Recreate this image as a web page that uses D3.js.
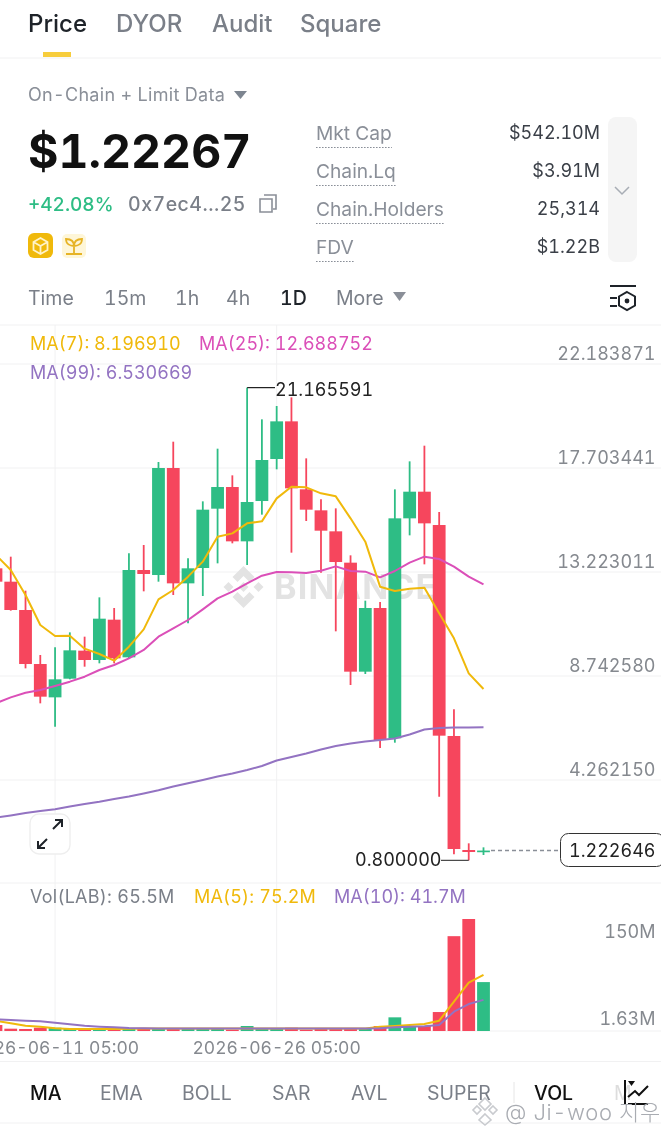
<!DOCTYPE html>
<html><head><meta charset="utf-8">
<script src="https://cdn.jsdelivr.net/npm/d3@7/dist/d3.min.js"></script>
<style>html,body{margin:0;padding:0;background:#fff;overflow:hidden}svg{display:block;filter:blur(.35px)}text{font-family:Inter,"Noto Sans CJK KR",sans-serif;font-variant-numeric:tabular-nums;font-feature-settings:"tnum" 1}</style>
</head><body><svg id="c" width="661" height="1136"></svg>
<script>
const categories=["06-07","06-08","06-09","06-10","06-11","06-12","06-13","06-14","06-15","06-16","06-17","06-18","06-19","06-20","06-21","06-22","06-23","06-24","06-25","06-26","06-27","06-28","06-29","06-30","07-01","07-02","07-03","07-04","07-05","07-06","07-07","07-08","07-09","07-10"];
const opens=[13.381,12.806,11.586,9.259,7.823,8.627,9.834,9.432,11.169,9.547,13.309,13.093,17.703,12.734,13.395,15.951,16.884,14.544,16.281,18.091,19.713,16.784,15.879,14.975,13.625,8.929,11.672,6.057,15.535,16.683,15.247,6.158,1.246,1.15];
const highs=[13.955,13.883,12.418,9.647,9.977,10.623,10.437,12.131,11.672,14.027,14.386,17.961,18.837,13.811,16.267,18.536,17.387,21.166,19.8,20.374,20.747,18.119,16.353,15.965,13.941,11.988,11.93,16.784,17.99,18.665,15.807,7.306,1.534,1.361];
const lows=[12.7,11.557,9.072,7.565,6.56,8.6,9.144,9.288,9.288,9.503,12.39,12.806,12.232,11.011,12.189,13.596,14.458,13.524,15.693,17.646,14.056,15.42,13.194,10.667,8.355,8.828,5.641,5.87,14.802,13.553,3.544,1.06,0.8,1.03];
const closes=[12.806,11.586,9.259,7.852,8.599,9.848,9.432,11.212,9.503,13.309,13.137,17.703,12.734,13.381,15.908,16.884,14.544,16.238,18.048,19.713,16.827,15.908,15.003,13.653,8.929,11.672,5.985,15.535,16.683,15.319,6.172,1.289,1.16,1.2226];
const ma7=[13.955,13.309,12.232,10.939,10.466,10.48,9.92,9.69,9.403,10.006,10.753,12.045,12.447,13.022,13.668,14.745,14.888,15.319,15.405,16.396,16.899,16.87,16.612,16.482,15.535,14.529,12.591,12.404,12.505,12.548,11.442,10.365,8.858,8.182];
const ma25=[7.565,7.823,8.024,8.139,8.312,8.498,8.713,9.001,9.216,9.503,9.863,10.437,10.796,11.155,11.614,12.088,12.375,12.734,13.065,13.223,13.208,13.18,13.28,13.467,13.266,13.237,12.993,13.266,13.625,13.883,13.783,13.452,13.022,12.689];
const ma99=[2.638,2.733,2.84,2.927,3.0,3.12,3.228,3.327,3.444,3.551,3.68,3.818,3.982,4.12,4.262,4.413,4.542,4.693,4.865,5.102,5.253,5.404,5.576,5.727,5.834,5.921,5.985,6.05,6.222,6.438,6.502,6.52,6.528,6.531];
const volumes=[8,3.1,2.7,4.4,4.4,3.5,1.7,1.7,1.7,2.7,2.7,2.7,3.4,3,3.4,3,1.7,6.7,3.1,3.1,4.4,1.7,2.9,2.9,3.1,3.1,6.7,18.3,6.7,6.7,25.4,127,150,65.5];
const volMa5=[13.8,10.3,7.1,5.8,3.6,2.7,2.6,2.6,2.6,3,3.2,3.2,3.2,3.2,3.3,3.3,3.3,3.4,3.4,3.4,3.3,3.3,3.3,3.3,3.4,3.4,5.8,6.7,8,9.4,13.8,39.2,64.7,75.2];
const volMa10=[15.7,14.7,13.8,13,11.1,9,7,5.8,5,4,3.6,3.5,3.5,3.5,3.5,3.4,3.4,3.5,3.5,3.5,3.5,3.5,3.5,3.5,3.5,3.5,3.6,5,5.8,6.3,8,25.8,36.1,41.7];
const priceTicks=[22.183871,17.703441,13.223011,8.74258,4.26215];
const timeTicks=[["06-11","2026-06-11 05:00"],["06-26","2026-06-26 05:00"]];
const tabs=["Price","DYOR","Audit","Square"];
const stats=[["Mkt Cap","$542.10M"],["Chain.Lq","$3.91M"],["Chain.Holders","25,314"],["FDV","$1.22B"]];
const intervals=["Time","15m","1h","4h","1D","More"];
const indicators=["MA","EMA","BOLL","SAR","AVL","SUPER","VOL"];

const GREEN="#2EBD85",RED="#F6465D",YEL="#F0B90B",PINK="#DB4FB8",PUR="#9373C2",GRID="#f1f1f2",GR="#7d8590",INK="#1e2329";
const svg=d3.select("#c");
const T=(x,y,s,o={})=>svg.append("text").attr("x",x).attr("y",y).attr("dy",".36em").attr("font-size",o.size||19).attr("font-weight",o.w||400)
  .attr("fill",o.c||GR).attr("text-anchor",o.a||"start").attr("letter-spacing",o.ls||0).attr("opacity",o.op==null?1:o.op).text(s);
const HL=(x1,x2,y,c=GRID,w=1)=>svg.append("line").attr("x1",x1).attr("x2",x2).attr("y1",y).attr("y2",y).attr("stroke",c).attr("stroke-width",w);

const x=d3.scalePoint().domain(categories).range([-4.03,483.5]);
const y=d3.scaleLinear().domain([4.26215,17.703441]).range([780,468]);
const v=d3.scaleLinear().domain([0,150]).range([1031,919]);
const W=12.8;

// header
const tabX=[28,116,212,300];
tabs.forEach((t,i)=>T(tabX[i],23,t,{size:24,w:500,c:i?"#7a7f88":INK}));
svg.append("rect").attr("x",43).attr("y",52).attr("width",28).attr("height",5).attr("fill","#F7CD3C");
HL(0,661,58);
T(28,95,"On-Chain + Limit Data",{size:18,c:"#8a8f98",ls:.3});
svg.append("path").attr("d","M234 91h13l-6.5 8z").attr("fill","#7d8590");
T(28,151,"$1.22267",{size:46.5,w:700,c:"#111"});
T(28,204,"+42.08%",{size:19,w:500,c:GREEN});
T(128,204,"0x7ec4...25",{size:19.5,w:500,c:"#7a7f88",ls:.5});
svg.append("path").attr("d","M264 195h12v14h-3M260 199h12v13h-12z").attr("fill","none").attr("stroke","#8a8f98").attr("stroke-width",1.6);
svg.append("rect").attr("x",28).attr("y",233).attr("width",25).attr("height",25).attr("rx",6).attr("fill",YEL);
svg.append("path").attr("d","M40.5 238l7 4v8l-7 4-7-4v-8zM33.5 242l7 4 7-4M40.5 246v8").attr("fill","none").attr("stroke","#fff3c8").attr("stroke-width",1.8);
svg.append("rect").attr("x",62).attr("y",234).attr("width",24).attr("height",24).attr("rx",5).attr("fill","#FEF6D8");
svg.append("path").attr("d","M74 254v-12M74 246c-4 0-8-2-8-7 5 0 8 2 8 7zM74 246c4 0 8-2 8-7-5 0-8 2-8 7zM66 254h16").attr("fill","none").attr("stroke","#E6B325").attr("stroke-width",1.8);
const rowY=[133,171,209,247];
stats.forEach((s,i)=>{
  const t=T(316,rowY[i],s[0],{size:19.2,c:"#8a8f98"});
  const w=t.node().getComputedTextLength();
  svg.append("line").attr("x1",316).attr("x2",316+w).attr("y1",rowY[i]+14.5).attr("y2",rowY[i]+14.5).attr("stroke","#8a8f98").attr("stroke-dasharray","1.6 1.4").attr("stroke-width",1);
  T(600,rowY[i],s[1],{size:18,a:"end",c:"#3a3f47"});
});
svg.append("rect").attr("x",608).attr("y",117).attr("width",29).attr("height",145).attr("rx",8).attr("fill","#f5f5f5");
svg.append("path").attr("d","M615 187l7 7 7-7").attr("fill","none").attr("stroke","#a8adb5").attr("stroke-width",1.5);
const ivX=[28,104,175,226,280,336];
intervals.forEach((t,i)=>T(ivX[i],298,t,{size:19.5,w:t==="1D"?500:400,c:t==="1D"?INK:"#7a7f88"}));
svg.append("path").attr("d","M393 292h13l-6.5 9z").attr("fill","#8a8f98");
svg.append("path").attr("d","M610 286h26M610 298h7M610 306h7M627 292l8 4.5v9l-8 4.5-8-4.5v-9z").attr("fill","none").attr("stroke",INK).attr("stroke-width",2);
svg.append("circle").attr("cx",627).attr("cy",301).attr("r",2.4).attr("fill",INK);
HL(0,661,325);

// grid
priceTicks.forEach(p=>HL(0,661,y(p)));
timeTicks.forEach(t=>svg.append("line").attr("x1",x(t[0])).attr("x2",x(t[0])).attr("y1",325).attr("y2",1031).attr("stroke",GRID));
HL(0,661,883);HL(0,661,1031);HL(0,661,1061.5);HL(0,661,1123);

// watermark
svg.append("g").attr("transform","translate(243.5,587)").attr("fill","#e3e3e3").selectAll("path")
  .data(["M0-21l11 11-5 5-6-6-6 6-5-5z","M0 21l11-11-5-5-6 6-6-6-5 5z","M-15-5l5 5-5 5-5-5z","M15-5l5 5-5 5-5-5z","M0-5l5 5-5 5-5-5z"]).join("path").attr("d",d=>d);
T(274,587,"BINANCE",{size:34,w:700,c:"#e3e3e3",ls:1.2});

// candles
const idx=d3.range(categories.length);
const col=i=>closes[i]>=opens[i]?GREEN:RED;
svg.append("g").selectAll("line").data(idx).join("line").attr("x1",i=>x(categories[i])).attr("x2",i=>x(categories[i]))
  .attr("y1",i=>y(highs[i])).attr("y2",i=>y(lows[i])).attr("stroke",col).attr("stroke-width",1.8);
svg.append("g").selectAll("rect").data(idx).join("rect").attr("x",i=>x(categories[i])-W/2).attr("width",W)
  .attr("y",i=>Math.min(y(opens[i]),y(closes[i]))).attr("height",i=>Math.max(1.6,Math.abs(y(opens[i])-y(closes[i])))).attr("fill",col);
// volume
svg.append("g").selectAll("rect").data(idx).join("rect").attr("x",i=>x(categories[i])-W/2).attr("width",W)
  .attr("y",i=>v(volumes[i])).attr("height",i=>v(0)-v(volumes[i])).attr("fill",col);

const line=(arr,sc,c,w=2)=>svg.append("path").datum(arr).attr("fill","none").attr("stroke",c).attr("stroke-width",w).attr("stroke-linejoin","round")
  .attr("d",d3.line().x((d,i)=>x(categories[i])).y(d=>sc(d)));
line(ma99,y,PUR);line(ma25,y,PINK);line(ma7,y,YEL);
line(volMa5,v,YEL);line(volMa10,v,PUR);

// legends
T(30,344,"MA(7): 8.196910",{size:18,c:YEL});
T(199,344,"MA(25): 12.688752",{size:18,c:PINK});
T(30,373,"MA(99): 6.530669",{size:18,c:PUR});
T(30,897,"Vol(LAB): 65.5M",{size:18,c:"#7a7f88",ls:.25});
T(194,897,"MA(5): 75.2M",{size:18,c:YEL,ls:.15});
T(334,897,"MA(10): 41.7M",{size:18,c:PUR});

// price axis
priceTicks.forEach(p=>T(655.5,y(p)-10,d3.format(".6f")(p),{size:18,a:"end",c:"#85898f"}));
T(655.5,932,"150M",{size:18,a:"end",c:"#85898f"});
T(655.5,1019,"1.63M",{size:18,a:"end",c:"#85898f"});
timeTicks.forEach(t=>T(x(t[0]),1048,t[1],{size:17.5,a:"middle",c:"#85898f"}));

// high / low / last markers
const hi=d3.max(highs),lo=d3.min(lows),hx=x(categories[highs.indexOf(hi)]),lx=x(categories[lows.indexOf(lo)]);
HL(hx,275,y(hi),"#222",1.2);
T(275,390,"21.165591",{size:18,c:"#222"});
HL(441,lx,y(lo),"#444",1.2);
T(355,860,"0.800000",{size:18,a:"start",c:"#222"});
const last=closes[closes.length-1];
svg.append("line").attr("x1",491).attr("x2",560).attr("y1",y(last)).attr("y2",y(last)).attr("stroke","#8a8f98").attr("stroke-width",1.4).attr("stroke-dasharray","4 3");
svg.append("rect").attr("x",560.5).attr("y",833.5).attr("width",104).attr("height",33).attr("rx",8).attr("fill","#fff").attr("stroke","#333").attr("stroke-width",1);
T(655.5,850.5,"1.222646",{size:18,a:"end",c:"#222"});

// expand button
svg.append("rect").attr("x",30).attr("y",814).attr("width",40).attr("height",40).attr("rx",9).attr("fill","#fff").attr("stroke","#eeeeee").attr("stroke-width",1.4);
svg.append("path").attr("d","M53 829l9-9M55 820h7v7M47 839l-9 9M38 841v7h7").attr("fill","none").attr("stroke","#1e2329").attr("stroke-width",2);

// indicator row
const indX=[30,100,182,272,351,427,534];
indicators.forEach((t,i)=>T(indX[i],1093,t,{size:19.5,w:(t==="MA"||t==="VOL")?500:400,c:(t==="MA"||t==="VOL")?"#111":"#7a7f88"}));
T(614,1093,"M",{size:19.5,c:"#dddddd"});
svg.append("line").attr("x1",514).attr("x2",514).attr("y1",1082).attr("y2",1103).attr("stroke","#e6e6e6");
svg.append("path").attr("d","M625 1080v24M628 1104h20M628 1097l7-6 4 4 9-9").attr("fill","none").attr("stroke","#111").attr("stroke-width",2);
svg.append("path").attr("d","M628 1081h7l-3.5 5z").attr("fill","#111");
// source watermark
svg.append("g").attr("transform","translate(485,1110)").attr("fill","none").attr("stroke","#c9cbcf").attr("stroke-width",1.6).selectAll("path")
  .data(["M0-12l6 6-6 6-6-6z","M-8-4l4 4-4 4-4-4z","M8-4l4 4-4 4-4-4z","M0 4l6 6-6 5-6-5z"]).join("path").attr("d",d=>d);
T(505,1112,"@ Ji-woo 지우",{size:22,c:"#a9acb2",w:300,ls:.6});
</script></body></html>
